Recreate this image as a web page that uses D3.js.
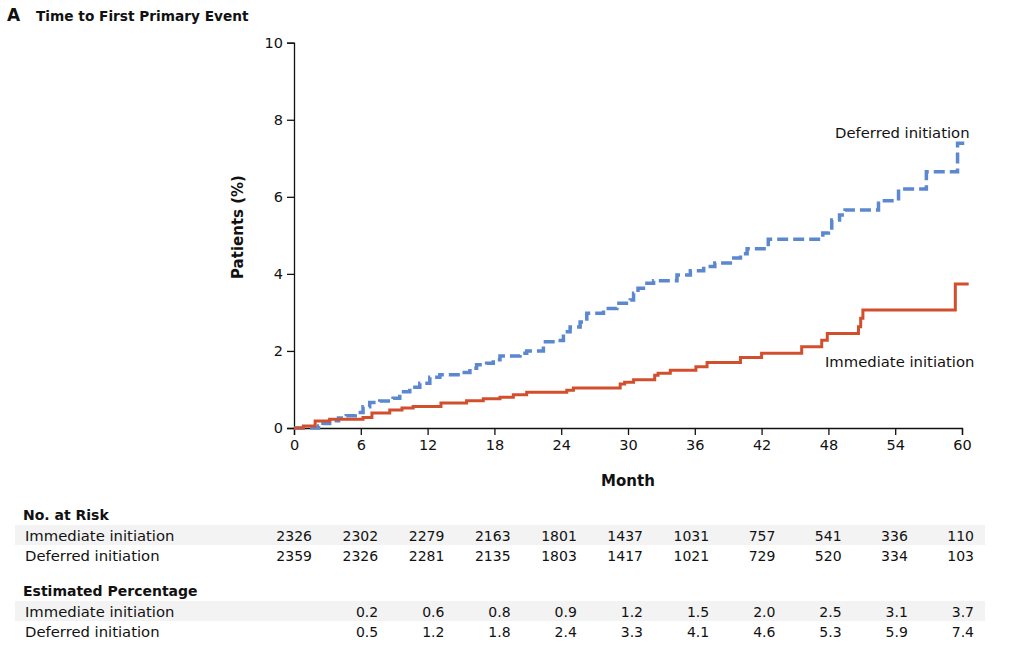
<!DOCTYPE html>
<html>
<head>
<meta charset="utf-8">
<script src="https://cdn.jsdelivr.net/npm/d3@7"></script>
<style>
    body { margin: 0; background: #fff; }
    text { font-family: "DejaVu Sans", sans-serif; fill: #111; }
</style>
</head>
<body>
<div id="chart"></div>
<script>
// curve data (month, cumulative %)
const immediateMonths = [0, 0.84, 1.9, 3.2, 6.2, 7.0, 8.6, 9.7, 10.7, 13.2, 15.5, 17.0, 18.5, 19.7, 20.9, 24.5, 25.1, 29.3, 29.7, 30.5, 32.4, 32.7, 33.8, 36.1, 37.1, 40.1, 42.0, 45.6, 47.4, 47.9, 50.7, 50.9, 51.1, 59.4, 60.6];
const immediateValues = [0, 0.05, 0.18, 0.23, 0.27, 0.39, 0.47, 0.52, 0.56, 0.65, 0.71, 0.76, 0.80, 0.86, 0.93, 0.98, 1.04, 1.14, 1.19, 1.25, 1.37, 1.42, 1.50, 1.59, 1.70, 1.83, 1.94, 2.11, 2.28, 2.45, 2.63, 2.85, 3.06, 3.74, 3.74];

const deferredMonths = [0, 2.2, 2.6, 3.2, 4.0, 4.7, 5.5, 6.2, 6.8, 7.7, 8.9, 9.5, 10.4, 11.3, 12.2, 13.1, 14.9, 15.8, 16.4, 17.3, 17.9, 18.5, 20.3, 20.9, 22.4, 23.6, 24.2, 24.8, 25.7, 26.3, 27.8, 29.0, 30.2, 30.5, 30.9, 31.7, 32.3, 34.4, 35.6, 36.8, 37.8, 39.5, 40.1, 40.7, 42.6, 47.5, 48.0, 48.3, 49.0, 49.5, 52.5, 54.3, 56.8, 59.6, 60.6];
const deferredValues = [0, 0.05, 0.12, 0.19, 0.26, 0.32, 0.40, 0.55, 0.66, 0.70, 0.77, 0.94, 1.06, 1.16, 1.32, 1.38, 1.44, 1.55, 1.64, 1.68, 1.77, 1.87, 1.94, 2.0, 2.24, 2.27, 2.5, 2.62, 2.75, 2.98, 3.10, 3.24, 3.32, 3.50, 3.63, 3.76, 3.82, 3.97, 4.08, 4.19, 4.28, 4.41, 4.52, 4.65, 4.90, 5.06, 5.19, 5.40, 5.53, 5.66, 5.90, 6.20, 6.65, 7.39, 7.39];

// table
const tableMonths = [0, 6, 12, 18, 24, 30, 36, 42, 48, 54, 60];
const riskImmediate = [2326, 2302, 2279, 2163, 1801, 1437, 1031, 757, 541, 336, 110];
const riskDeferred = [2359, 2326, 2281, 2135, 1803, 1417, 1021, 729, 520, 334, 103];
const estImmediate = [null, 0.2, 0.6, 0.8, 0.9, 1.2, 1.5, 2.0, 2.5, 3.1, 3.7];
const estDeferred = [null, 0.5, 1.2, 1.8, 2.4, 3.3, 4.1, 4.6, 5.3, 5.9, 7.4];

const xTicks = [0, 6, 12, 18, 24, 30, 36, 42, 48, 54, 60];
const yTicks = [0, 2, 4, 6, 8, 10];

const width = 1024;
const height = 657;

const svg = d3.select('#chart')
    .append('svg')
    .attr('width', width)
    .attr('height', height);

const xScale = d3.scaleLinear().domain([0, 60]).range([294, 962]);
const yScale = d3.scaleLinear().domain([0, 10]).range([428, 42.7]);

// title
svg.append('text')
    .attr('x', 7).attr('y', 21)
    .style('font-size', '17px').style('font-weight', 'bold')
    .text('A');
svg.append('text')
    .attr('x', 36).attr('y', 21)
    .style('font-size', '13.7px').style('font-weight', 'bold')
    .text('Time to First Primary Event');

// axes
const xAxis = d3.axisBottom(xScale).tickValues(xTicks).tickSize(7).tickPadding(5);
const yAxis = d3.axisLeft(yScale).tickValues(yTicks).tickSize(7).tickPadding(4);

const gx = svg.append('g')
    .attr('transform', `translate(0, ${yScale(0)})`)
    .call(xAxis);
const gy = svg.append('g')
    .attr('transform', `translate(${xScale(0)}, 0)`)
    .call(yAxis);

[gx, gy].forEach(g => {
    g.select('.domain').attr('stroke', '#111').attr('stroke-width', 1.3);
    g.selectAll('.tick line').attr('stroke', '#111').attr('stroke-width', 1.3);
    g.selectAll('.tick text')
        .style('font-family', '"DejaVu Sans", sans-serif')
        .style('font-size', '14.5px')
        .attr('fill', '#111');
});

svg.append('text')
    .attr('x', 628).attr('y', 486)
    .attr('text-anchor', 'middle')
    .style('font-size', '15px').style('font-weight', 'bold')
    .text('Month');

svg.append('text')
    .attr('transform', 'translate(243, 227) rotate(-90)')
    .attr('text-anchor', 'middle')
    .style('font-size', '15px').style('font-weight', 'bold')
    .text('Patients (%)');

// curves
const line = d3.line()
    .x(d => xScale(d[0]))
    .y(d => yScale(d[1]))
    .curve(d3.curveStepAfter);

svg.append('path')
    .datum(d3.zip(deferredMonths, deferredValues))
    .attr('d', line)
    .attr('fill', 'none')
    .attr('stroke', '#5b88cf')
    .attr('stroke-width', 3.5)
    .attr('stroke-dasharray', '11 5');

svg.append('path')
    .datum(d3.zip(immediateMonths, immediateValues))
    .attr('d', line)
    .attr('fill', 'none')
    .attr('stroke', '#d24f2e')
    .attr('stroke-width', 3);

svg.append('text')
    .attr('x', 835).attr('y', 138)
    .style('font-size', '14.8px')
    .text('Deferred initiation');

svg.append('text')
    .attr('x', 825).attr('y', 367)
    .style('font-size', '14.8px')
    .text('Immediate initiation');

// table below
const colScale = d3.scaleLinear().domain([0, 60]).range([312, 974]);

function tableRow(y, label, values, fmt, shaded) {
    if (shaded) {
        svg.append('rect')
            .attr('x', 15).attr('y', y - 16)
            .attr('width', 970).attr('height', 20)
            .attr('fill', '#f3f3f3');
    }
    svg.append('text')
        .attr('x', 25).attr('y', y)
        .style('font-size', '14.8px')
        .text(label);
    svg.selectAll(null)
        .data(d3.zip(tableMonths, values).filter(d => d[1] !== null))
        .enter()
        .append('text')
        .attr('x', d => colScale(d[0]))
        .attr('y', y)
        .attr('text-anchor', 'end')
        .style('font-size', '14px')
        .text(d => fmt(d[1]));
}

svg.append('text')
    .attr('x', 23).attr('y', 520)
    .style('font-size', '14px').style('font-weight', 'bold')
    .text('No. at Risk');
tableRow(541, 'Immediate initiation', riskImmediate, d => d, true);
tableRow(561, 'Deferred initiation', riskDeferred, d => d, false);

svg.append('text')
    .attr('x', 23).attr('y', 596)
    .style('font-size', '14px').style('font-weight', 'bold')
    .text('Estimated Percentage');
tableRow(617, 'Immediate initiation', estImmediate, d3.format('.1f'), true);
tableRow(637, 'Deferred initiation', estDeferred, d3.format('.1f'), false);
</script>
</body>
</html>
